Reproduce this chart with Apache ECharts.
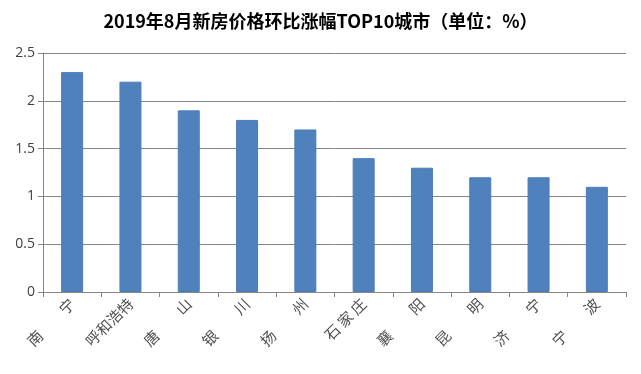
<!DOCTYPE html>
<html>
<head>
<meta charset="utf-8">
<script src="https://cdn.jsdelivr.net/npm/echarts@6/dist/echarts.min.js"></script>
<style>
  html, body { margin: 0; padding: 0; background: #fff; }
  #chart { width: 641px; height: 374px; }
</style>
</head>
<body>
<div id="chart"></div>
<script>
// 城市（两个字的中间补两个全角空格，凑成四字宽）
const cities = ['南　　宁', '呼和浩特', '唐　　山', '银　　川', '扬　　州', '石 家 庄', '襄　　阳', '昆　　明', '济　　宁', '宁　　波']
const rise = [2.3, 2.2, 1.9, 1.8, 1.7, 1.4, 1.3, 1.2, 1.2, 1.1]

let myChart = echarts.init(document.getElementById('chart'))

let option = {
  animation: false,
  title: {
    text: '2019年8月新房价格环比涨幅TOP10城市（单位：%）',
    left: 'center',
    top: 7,
    textStyle: {
      fontFamily: 'Noto Sans CJK SC',
      fontSize: 18,
      fontWeight: 'bold',
      color: '#000'
    }
  },
  grid: {
    left: 43,
    right: 15,
    top: 53,
    bottom: 82
  },
  xAxis: {
    type: 'category',
    data: cities,
    axisLine: { lineStyle: { color: '#868686' } },
    axisTick: { show: true, length: 5, lineStyle: { color: '#868686' } },
    axisLabel: {
      rotate: 45,
      margin: 9,
      interval: 0,
      fontSize: 15,
      color: '#505050',
      fontFamily: 'Noto Sans CJK SC'
    }
  },
  yAxis: {
    type: 'value',
    min: 0,
    max: 2.5,
    interval: 0.5,
    axisLine: { show: true, lineStyle: { color: '#868686' } },
    axisTick: { show: true, length: 5, lineStyle: { color: '#868686' } },
    splitLine: { lineStyle: { color: '#868686' } },
    axisLabel: {
      fontSize: 14,
      color: '#404040',
      margin: 8,
      fontFamily: 'Open Sans'
    }
  },
  series: [
    {
      type: 'bar',
      data: rise,
      barWidth: 22,
      itemStyle: {
        color: '#4F81BD',
        borderColor: '#4A7EBB',
        borderWidth: 1
      }
    }
  ]
}

myChart.setOption(option)
</script>
</body>
</html>
